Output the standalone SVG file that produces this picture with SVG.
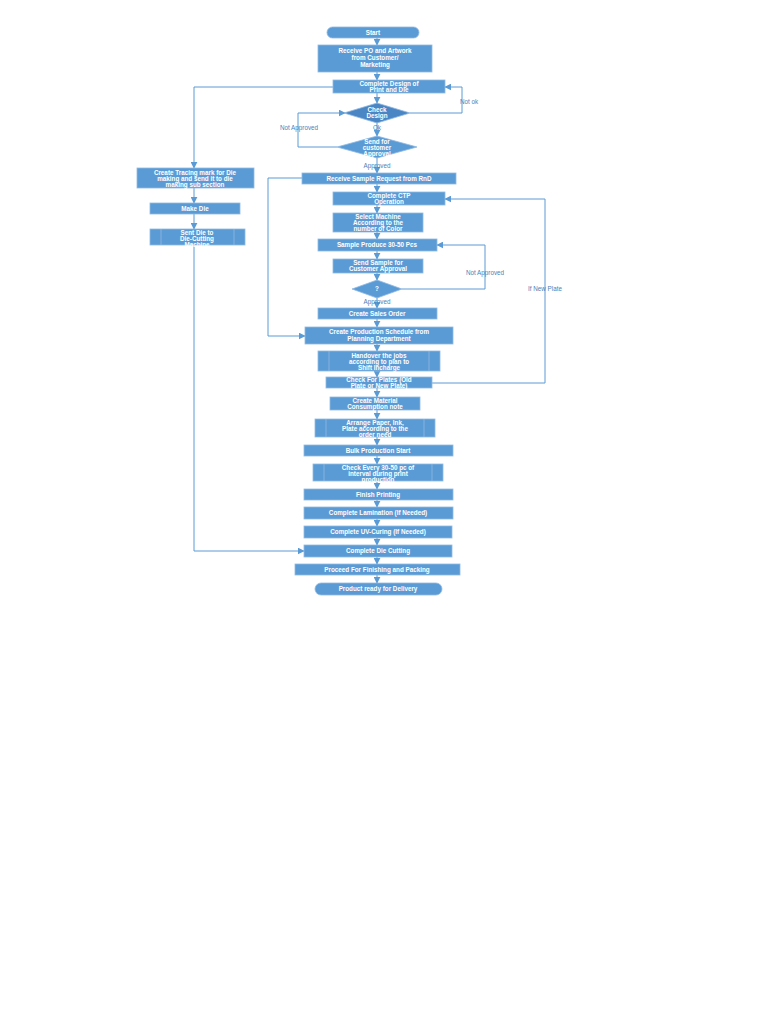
<svg xmlns="http://www.w3.org/2000/svg" width="768" height="1024" viewBox="0 0 768 1024">
<style>
.n{fill:#5b9bd5;stroke:#8fb9e3;stroke-width:0.8}
.d{fill:#4a86c4}
.t{font-family:"Liberation Sans",Arial,sans-serif;font-size:6.3px;font-weight:bold;fill:#fff;text-anchor:middle}
.l{font-family:"Liberation Sans",Arial,sans-serif;font-size:6.3px;fill:#4a7fb8;text-anchor:middle}
.c{fill:none;stroke:#5b9bd5;stroke-width:1;marker-end:url(#a)}
.p{fill:none;stroke:#8fb9e3;stroke-width:0.8}
</style>
<defs><marker id="a" viewBox="0 0 10 10" refX="9" refY="5" markerWidth="7" markerHeight="7" orient="auto"><path d="M0,0L10,5L0,10z" fill="#5b9bd5"/></marker></defs>
<rect width="768" height="1024" fill="#fff"/>
<g id="connectors">
<path class="c" d="M377,38V45"/><path class="c" d="M377,72V80"/><path class="c" d="M377,93V103"/>
<path class="c" d="M377,123V136"/><path class="c" d="M377,158V173"/><path class="c" d="M377,184V192"/>
<path class="c" d="M377,205V213"/><path class="c" d="M377,232V239"/><path class="c" d="M377,251V259"/>
<path class="c" d="M377,273V280"/><path class="c" d="M377,298V308"/><path class="c" d="M377,319V327"/>
<path class="c" d="M377,344V351"/><path class="c" d="M377,371V377"/><path class="c" d="M377,388V397"/>
<path class="c" d="M377,410V419"/><path class="c" d="M377,437V445"/><path class="c" d="M377,456V464"/>
<path class="c" d="M377,481V489"/><path class="c" d="M377,500V507"/><path class="c" d="M377,519V526"/>
<path class="c" d="M377,538V545"/><path class="c" d="M377,557V564"/><path class="c" d="M377,575V583"/>
<path class="c" d="M410,113H462V87H445"/>
<path class="c" d="M337,147H298V113H345"/>
<path class="c" d="M333,87H194V168"/><path class="c" d="M194,188V203"/><path class="c" d="M194,214V229"/>
<path class="c" d="M194,245V551H304"/>
<path class="c" d="M302,178H268V336H305"/>
<path class="c" d="M432,383H545V199H445"/>
<path class="c" d="M402,289H485V245H437"/>
<text class="l" x="469" y="104">Not ok</text>
<text class="l" x="299" y="130">Not Approved</text>
<text class="l" x="377" y="130">Ok</text>
<text class="l" x="377" y="168">Approved</text>
<text class="l" x="485" y="275">Not Approved</text>
<text class="l" x="545" y="291">If New Plate</text>
<text class="l" x="377" y="304">Approved</text>
</g>
<g id="start"><rect class="n" x="327" y="27" width="92" height="11" rx="5.5"/><text class="t" x="373" y="35">Start</text></g>
<g id="po"><rect class="n" x="318" y="45" width="114" height="27"/><text class="t" x="375" y="53">Receive PO and Artwork</text><text class="t" x="375" y="60">from Customer/</text><text class="t" x="375" y="67">Marketing</text></g>
<g id="design"><rect class="n" x="333" y="80" width="112" height="13"/><text class="t" x="389" y="86">Complete Design of</text><text class="t" x="389" y="92">Print and Die</text></g>
<g id="check"><path class="n d" d="M377,103L410,113L377,123L344,113z"/><text class="t" x="377" y="112">Check</text><text class="t" x="377" y="118">Design</text></g>
<g id="approval"><path class="n" d="M377,136L417,147L377,158L337,147z"/><text class="t" x="377" y="144">Send for</text><text class="t" x="377" y="150">customer</text><text class="t" x="377" y="156">Approval</text></g>
<g id="sample-req"><rect class="n" x="302" y="173" width="154" height="11"/><text class="t" x="379" y="181">Receive Sample Request from RnD</text></g>
<g id="ctp"><rect class="n" x="333" y="192" width="112" height="13"/><text class="t" x="389" y="198">Complete CTP</text><text class="t" x="389" y="204">Operation</text></g>
<g id="machine"><rect class="n" x="333" y="213" width="90" height="19"/><text class="t" x="378" y="219">Select Machine</text><text class="t" x="378" y="225">According to the</text><text class="t" x="378" y="231">number of Color</text></g>
<g id="produce"><rect class="n" x="318" y="239" width="119" height="12"/><text class="t" x="377" y="247">Sample Produce 30-50 Pcs</text></g>
<g id="send-sample"><rect class="n" x="333" y="259" width="90" height="14"/><text class="t" x="378" y="265">Send Sample for</text><text class="t" x="378" y="271">Customer Approval</text></g>
<g id="q"><path class="n" d="M377,280L402,289L377,298L352,289z"/><text class="t" x="377" y="291">?</text></g>
<g id="sales"><rect class="n" x="318" y="308" width="119" height="11"/><text class="t" x="377" y="316">Create Sales Order</text></g>
<g id="schedule"><rect class="n" x="305" y="327" width="148" height="17"/><text class="t" x="379" y="334">Create Production Schedule from</text><text class="t" x="379" y="341">Planning Department</text></g>
<g id="handover"><rect class="n" x="318" y="351" width="122" height="20"/><path class="p" d="M329,351V371M429,351V371"/><text class="t" x="379" y="358">Handover the jobs</text><text class="t" x="379" y="364">according to plan to</text><text class="t" x="379" y="370">Shift Incharge</text></g>
<g id="plates"><rect class="n" x="326" y="377" width="106" height="11"/><text class="t" x="379" y="382">Check For Plates (Old</text><text class="t" x="379" y="388">Plate or New Plate)</text></g>
<g id="material"><rect class="n" x="330" y="397" width="90" height="13"/><text class="t" x="375" y="403">Create Material</text><text class="t" x="375" y="409">Consumption note</text></g>
<g id="arrange"><rect class="n" x="315" y="419" width="120" height="18"/><path class="p" d="M326,419V437M424,419V437"/><text class="t" x="375" y="425">Arrange Paper, Ink,</text><text class="t" x="375" y="431">Plate according to the</text><text class="t" x="375" y="437">order need</text></g>
<g id="bulk"><rect class="n" x="304" y="445" width="149" height="11"/><text class="t" x="378" y="453">Bulk Production Start</text></g>
<g id="every"><rect class="n" x="313" y="464" width="130" height="17"/><path class="p" d="M324,464V481M432,464V481"/><text class="t" x="378" y="470">Check Every 30-50 pc of</text><text class="t" x="378" y="476">interval during print</text><text class="t" x="378" y="482">production</text></g>
<g id="finish"><rect class="n" x="304" y="489" width="149" height="11"/><text class="t" x="378" y="497">Finish Printing</text></g>
<g id="lam"><rect class="n" x="304" y="507" width="149" height="12"/><text class="t" x="378" y="515">Complete Lamination (If Needed)</text></g>
<g id="uv"><rect class="n" x="304" y="526" width="148" height="12"/><text class="t" x="378" y="534">Complete UV-Curing (If Needed)</text></g>
<g id="diecut"><rect class="n" x="304" y="545" width="148" height="12"/><text class="t" x="378" y="553">Complete Die Cutting</text></g>
<g id="packing"><rect class="n" x="295" y="564" width="165" height="11"/><text class="t" x="377" y="572">Proceed For Finishing and Packing</text></g>
<g id="ready"><rect class="n" x="315" y="583" width="127" height="12" rx="6"/><text class="t" x="378" y="591">Product ready for Delivery</text></g>
<g id="tracing"><rect class="n" x="137" y="168" width="117" height="20"/><text class="t" x="195" y="175">Create Tracing mark for Die</text><text class="t" x="195" y="181">making and send it to die</text><text class="t" x="195" y="187">making sub section</text></g>
<g id="makedie"><rect class="n" x="150" y="203" width="90" height="11"/><text class="t" x="195" y="211">Make Die</text></g>
<g id="sentdie"><rect class="n" x="150" y="229" width="95" height="16"/><path class="p" d="M161,229V245M234,229V245"/><text class="t" x="197" y="235">Sent Die to</text><text class="t" x="197" y="241">Die-Cutting</text><text class="t" x="197" y="247">Machine</text></g>
</svg>
